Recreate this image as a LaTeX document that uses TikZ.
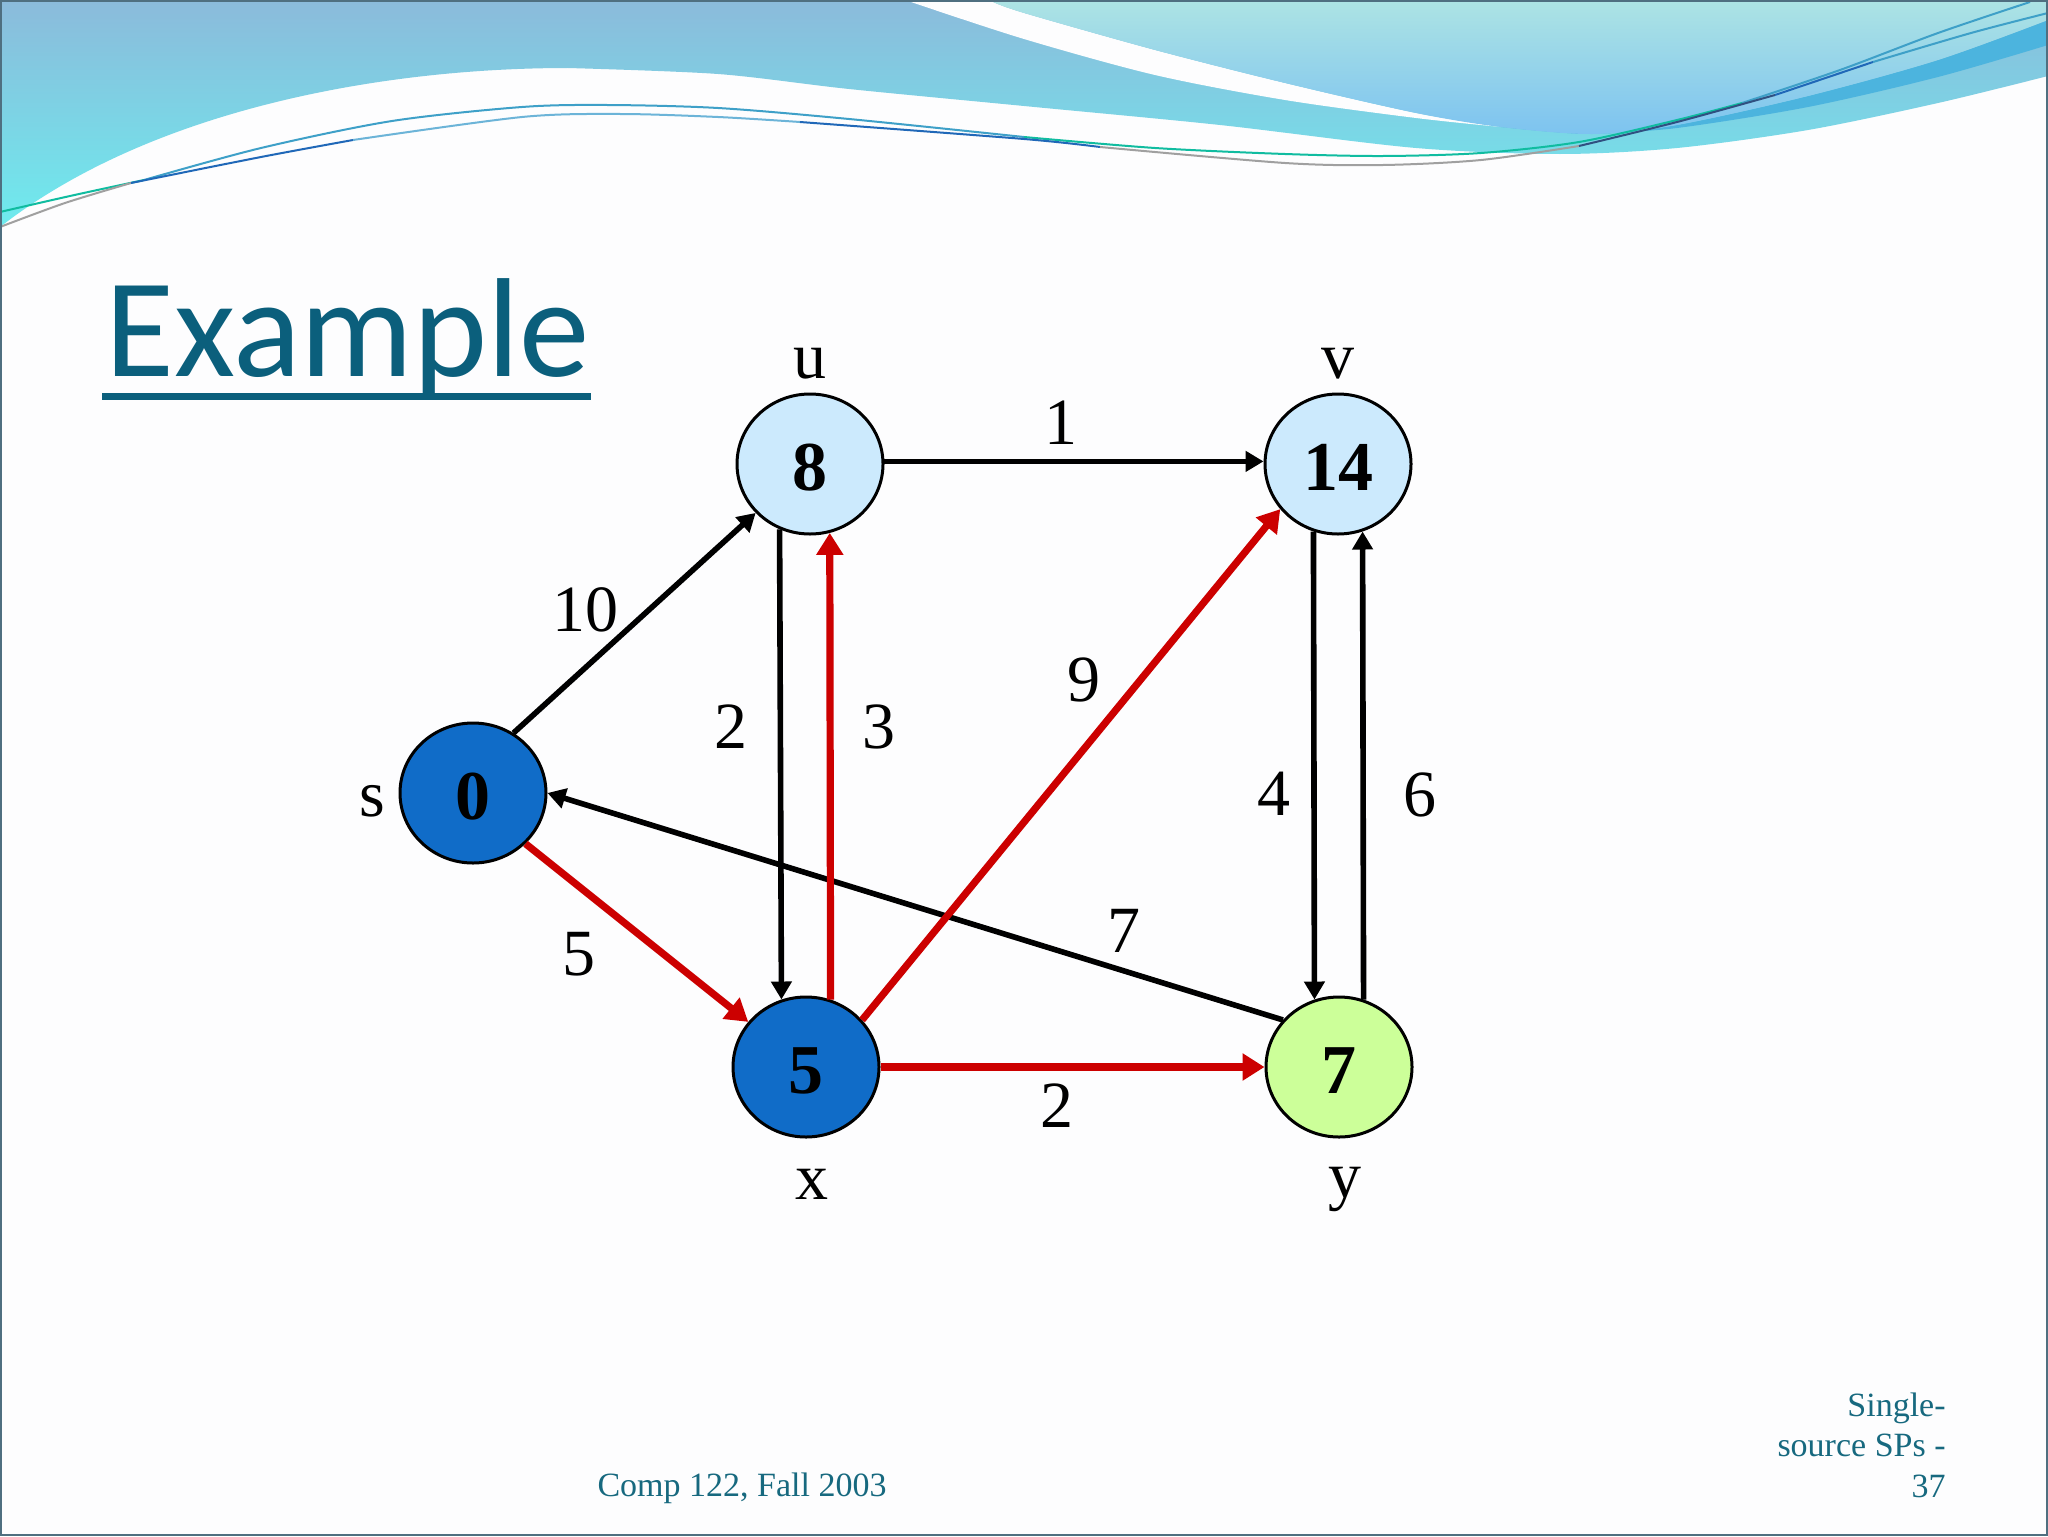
\documentclass[tikz,border=0pt]{standalone}
\usepackage{fontspec}
\setmainfont{Liberation Serif}
\newfontfamily\titlefont{Carlito}
\usetikzlibrary{arrows.meta, shapes.geometric}
\definecolor{slidebg}{HTML}{FDFDFE}
\definecolor{slideedge}{HTML}{4F6F80}
\definecolor{titleteal}{HTML}{0B5F7C}
\definecolor{footteal}{HTML}{17697F}
\definecolor{lightblue}{HTML}{CCEAFD}
\definecolor{deepblue}{HTML}{106CC8}
\definecolor{palegreen}{HTML}{CCFF99}
\definecolor{edgered}{HTML}{CC0000}
\definecolor{bandtop}{HTML}{8BBBDB}
\definecolor{bandlow}{HTML}{6EEBEE}
\definecolor{swooshtop}{HTML}{ACE3E4}
\definecolor{swooshlow}{HTML}{7DC3F0}
\definecolor{stripe}{HTML}{4CB4DE}
\definecolor{wavea}{HTML}{3EA0C8}
\definecolor{waveb}{HTML}{10BCA0}
\definecolor{wavec}{HTML}{A0A0A0}
\definecolor{waved}{HTML}{2068B8}
\definecolor{wavee}{HTML}{6CB4D8}
\definecolor{wavef}{HTML}{305080}
\tikzset{
  vertex/.style={draw=black, line width=1.5pt, ellipse, inner sep=0pt, minimum width=73pt, minimum height=70pt,
    text height=26pt, text depth=0pt, font=\fontsize{35}{40}\selectfont\bfseries},
  vertexname/.style={font=\fontsize{33}{38}\selectfont, inner sep=0pt},
  weight/.style={font=\fontsize{33}{38}\selectfont, inner sep=0pt},
  blackedge/.style={line width=2.8pt, -{Triangle[length=9pt,width=10pt]}},
  rededge/.style={line width=3.6pt, edgered, -{Triangle[length=11pt,width=13pt]}},
  wave/.style={line width=1pt}
}
\begin{document}
\begin{tikzpicture}[x=0.5pt, y=-0.5pt]
  \useasboundingbox (0,0) rectangle (2048,1536);
  \fill[slidebg] (0,0) rectangle (2048,1536);

  % Banner
  \shade[top color=bandtop, bottom color=bandlow]
    (0,227) .. controls (150,110) and (380,68) .. (568,68)
    -- plot[smooth] coordinates {(568,68) (718,74) (849,89) (1024,106) (1220,125) (1416,148) (1560,154) (1677,148) (1808,130) (1938,103) (2048,76)}
    -- (2048,2) -- (0,2) -- cycle;
  \fill[slidebg]
    plot[smooth] coordinates {(911,2) (1024,39) (1155,75) (1285,100) (1416,118) (1501,127)}
    -- plot[smooth] coordinates {(1501,127) (1416,113) (1285,83) (1155,50) (1024,13) (993,2)} -- cycle;
  \fill[stripe]
    plot[smooth] coordinates {(1501,127) (1592,134) (1677,125) (1808,96) (1938,60) (2048,20)}
    -- plot[smooth] coordinates {(2048,45) (1938,77) (1808,107) (1677,128) (1592,134)} -- cycle;
  \shade[top color=swooshtop, bottom color=swooshlow]
    plot[smooth] coordinates {(993,2) (1024,13) (1155,50) (1285,83) (1416,113) (1501,127) (1592,134) (1677,125) (1808,96) (1938,60) (2048,20)}
    -- (2048,2) -- cycle;

  % Banner lines
  \draw[wave, wavea] plot[smooth] coordinates {(144,180) (261,148) (392,121) (522,107) (607,105) (718,108) (849,119) (1024,137)};
  \draw[wave, waveb] plot[smooth] coordinates {(0,212) (70,196) (144,180)};
  \draw[wave, waveb] plot[smooth] coordinates {(1024,137) (1155,148) (1285,154) (1383,156) (1481,153) (1579,142) (1677,120) (1742,103)};
  \draw[wave, wavea] plot[smooth] coordinates {(1742,103) (1840,70) (1938,33) (2030,2)};
  \draw[wave, wavec] plot[smooth] coordinates {(0,227) (65,203) (131,183)};
  \draw[wave, waved] plot[smooth] coordinates {(131,183) (261,157) (353,140)};
  \draw[wave, wavee] plot[smooth] coordinates {(353,140) (522,117) (620,114) (718,117) (800,122)};
  \draw[wave, waved] plot[smooth] coordinates {(800,122) (1024,139) (1100,147)};
  \draw[wave, wavec] plot[smooth] coordinates {(1100,147) (1285,163) (1383,165) (1481,160) (1579,146)};
  \draw[wave, wavef] plot[smooth] coordinates {(1579,146) (1677,122) (1775,95)};
  \draw[wave, waved] plot[smooth] coordinates {(1775,95) (1873,62)};
  \draw[wave, wavea] plot[smooth] coordinates {(1873,62) (1971,33) (2048,13)};

  \draw[slideedge, line width=1.4pt] (1,1) rectangle (2047,1535);

  % Title
  \node[font=\titlefont\fontsize{70.5}{80}\selectfont, text=titleteal, inner sep=0pt] (title) at (348,339) {Example};
  \coordinate (ruleL) at (102,396);
  \coordinate (ruleR) at (591,396);
  \draw[titleteal, line width=3.5pt] (ruleL) -- (ruleR);

  % Vertices
  \node[vertex, fill=deepblue] (s) at (473,793) {0};
  \node[vertex, fill=lightblue] (u) at (810,464) {8};
  \node[vertex, fill=lightblue] (v) at (1338,464) {14};
  \node[vertex, fill=deepblue] (x) at (806,1067) {5};
  \node[vertex, fill=palegreen] (y) at (1339,1067) {7};

  % Vertex names
  \node[vertexname] (sname) at (372,801) {s};
  \node[vertexname] (uname) at (810,364) {u};
  \node[vertexname] (vname) at (1338,364) {v};
  \node[vertexname] (xname) at (812,1184) {x};
  \node[vertexname] (yname) at (1345,1189) {y};

  % Edges
  \draw[blackedge] (s.56) -- (u.222);
  \draw[blackedge] (u.2) -- (v.178);
  \draw[blackedge] (u.245.6) -- (x.110.7);
  \draw[blackedge] (v.250) -- (y.110.7);
  \draw[blackedge] (y.70.8) -- (v.290);
  \draw[blackedge] (y.140) -- (s.east);
  \draw[rededge] (s.-44) -- (x.142);
  \draw[rededge] (x.70) -- (u.286.6);
  \draw[rededge] (x.40) -- (v.218.5);
  \draw[rededge] (x.east) -- (y.west);

  % Weights
  \node[weight] (wsu) at (585,610) {10};
  \node[weight] (wuv) at (1061,423) {1};
  \node[weight] (wux) at (731,727) {2};
  \node[weight] (wxu) at (879,727) {3};
  \node[weight] (wxv) at (1084,680) {9};
  \node[weight] (wvy) at (1274,794) {4};
  \node[weight] (wyv) at (1420,795) {6};
  \node[weight] (wys) at (1124,931) {7};
  \node[weight] (wsx) at (579,954) {5};
  \node[weight] (wxy) at (1057,1106) {2};

  % Footer
  \node[font=\fontsize{17}{20.25}\selectfont, text=footteal, inner sep=0pt] (course) at (742,1488) {Comp 122, Fall 2003};
  \node[font=\fontsize{17}{20.25}\selectfont, text=footteal, inner sep=0pt, align=right, anchor=east] (pagenum) at (1946,1445) {Single-\\source SPs -\\37};
\end{tikzpicture}
\end{document}
